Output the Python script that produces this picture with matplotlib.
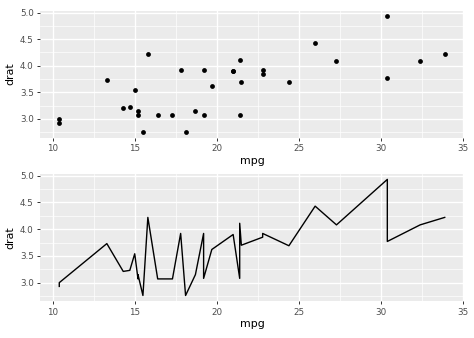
import numpy as np
import matplotlib
matplotlib.use("Agg")
import matplotlib.pyplot as plt

mpg = [21.0, 21.0, 22.8, 21.4, 18.7, 18.1, 14.3, 24.4, 22.8, 19.2, 17.8, 16.4, 17.3, 15.2,
       10.4, 10.4, 14.7, 32.4, 30.4, 33.9, 21.5, 15.5, 15.2, 13.3, 19.2, 27.3, 26.0, 30.4,
       15.8, 19.7, 15.0, 21.4]
drat = [3.90, 3.90, 3.85, 3.08, 3.15, 2.76, 3.21, 3.69, 3.92, 3.92, 3.92, 3.07, 3.07, 3.07,
        2.93, 3.00, 3.23, 4.08, 4.93, 4.22, 3.70, 2.76, 3.15, 3.73, 3.08, 4.08, 4.43, 3.77,
        4.22, 3.62, 3.54, 4.11]
x_ticks = [10, 15, 20, 25, 30, 35]
y_ticks = [3.0, 3.5, 4.0, 4.5, 5.0]

x = np.array(mpg)
y = np.array(drat)
order = np.argsort(x, kind="stable")

W, H = 474, 338
fig = plt.figure(figsize=(W / 100, H / 100), dpi=100)
left, right = 40 / W, 464 / W
ax1 = fig.add_axes([left, 1 - 137.5 / H, right - left, (137.5 - 10.5) / H])
ax2 = fig.add_axes([left, 1 - 301.3 / H, right - left, (301.3 - 173.6) / H])

xr = x.max() - x.min()
yr = y.max() - y.min()
xlim = (x.min() - 0.05 * xr, x.max() + 0.05 * xr)
ylim = (y.min() - 0.05 * yr, y.max() + 0.05 * yr)

def style(ax):
    ax.set_facecolor("#EBEBEB")
    for s in ax.spines.values():
        s.set_visible(False)
    ax.set_xlim(xlim)
    ax.set_ylim(ylim)
    ax.set_xticks(x_ticks)
    ax.set_yticks(y_ticks)
    ax.set_xticklabels([str(t) for t in x_ticks])
    ax.set_yticklabels([f"{t:.1f}" for t in y_ticks])
    ax.set_xticks([12.5, 17.5, 22.5, 27.5, 32.5], minor=True)
    ax.set_yticks([2.75, 3.25, 3.75, 4.25, 4.75], minor=True)
    ax.grid(which="major", color="white", linewidth=1.0)
    ax.grid(which="minor", color="white", linewidth=0.5)
    ax.set_axisbelow(True)
    ax.tick_params(which="major", length=2.5, width=0.7, color="#333333",
                   labelsize=6.3, labelcolor="#4D4D4D", pad=2)
    ax.tick_params(which="minor", length=0)
    ax.set_xlabel("mpg", fontsize=7.9, labelpad=2)
    ax.set_ylabel("drat", fontsize=7.9, labelpad=3)

style(ax1)
ax1.scatter(x, y, s=12, color="black", zorder=3, linewidths=0)
style(ax2)
ax2.plot(x[order], y[order], color="black", linewidth=1.0, zorder=3)

fig.savefig("out.png", dpi=100)
